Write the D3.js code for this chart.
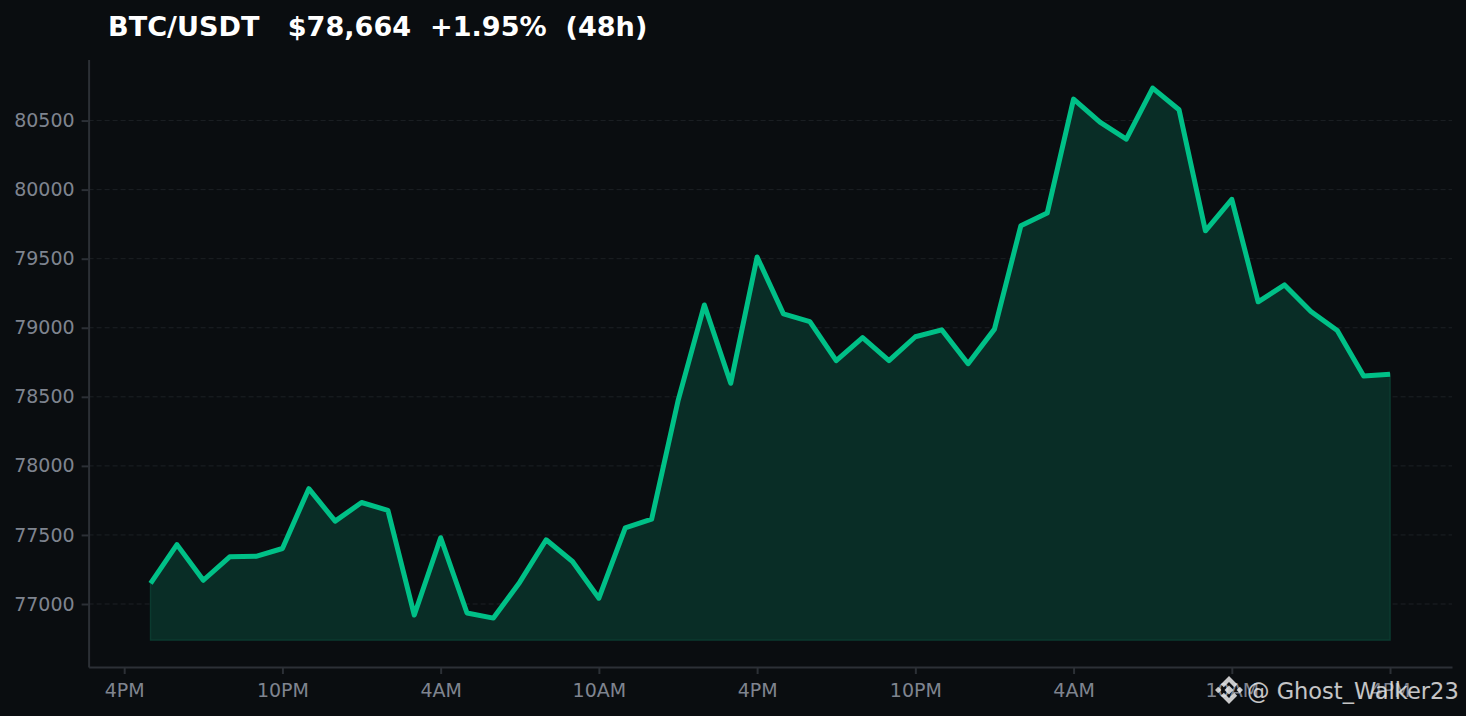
<!DOCTYPE html>
<html>
<head>
<meta charset="utf-8">
<script src="https://cdn.jsdelivr.net/npm/d3@7"></script>
<style>
  html, body { margin: 0; padding: 0; background: #0a0d10; overflow: hidden; }
  svg { display: block; font-family: "DejaVu Sans", sans-serif; }
  .axis path, .axis line { stroke: #2c3036; stroke-width: 2; }
  .axis text { fill: #7f848f; font-size: 19px; font-family: "DejaVu Sans", sans-serif; }
  .grid line { stroke: #1c2024; stroke-width: 1; stroke-dasharray: 5 3; }
</style>
</head>
<body>
<svg id="chart" width="1466" height="716"></svg>
<script>
// hours after the first 4PM tick
const hours = d3.range(1, 49);
const prices = [
  77150, 77430, 77172, 77342, 77345, 77402, 77835, 77600, 77735, 77678,
  76920, 77480, 76935, 76898, 77158, 77465, 77308, 77042, 77552, 77614,
  78470, 79165, 78598, 79512, 79100, 79045, 78762, 78928, 78762, 78935,
  78985, 78740, 78990, 79738, 79830, 80655, 80488, 80365, 80735, 80578,
  79702, 79930, 79188, 79310, 79118, 78980, 78650, 78664
];
const baseline = 76740;
const yTicks = [77000, 77500, 78000, 78500, 79000, 79500, 80000, 80500];
const xTickHours = [0, 6, 12, 18, 24, 30, 36, 42, 48];
const xTickLabels = ['4PM', '10PM', '4AM', '10AM', '4PM', '10PM', '4AM', '10AM', '4PM'];
const titleText = 'BTC/USDT   $78,664  +1.95%  (48h)';
const watermark = '@ Ghost_Walker23';

const margin = { top: 59.5, right: 14, bottom: 49, left: 88.6 };
const svg = d3.select('#chart');
const width = 1466 - margin.left - margin.right;
const height = 716 - margin.top - margin.bottom;

svg.append('rect').attr('width', 1466).attr('height', 716).attr('fill', '#0a0d10');

const g = svg.append('g')
  .attr('transform', `translate(${margin.left},${margin.top})`);

// Scales
const xScale = d3.scaleLinear().domain([-1.35, 50.35]).range([0, width]);
const yScale = d3.scaleLinear().domain([76544, 80942]).range([height, 0]);

// Grid
g.append('g').attr('class', 'grid')
  .selectAll('line').data(yTicks).join('line')
  .attr('x1', 0).attr('x2', width)
  .attr('y1', d => yScale(d)).attr('y2', d => yScale(d));

// Area and line
const area = d3.area()
  .x((d, i) => xScale(hours[i]))
  .y0(yScale(baseline))
  .y1(d => yScale(d));
const line = d3.line()
  .x((d, i) => xScale(hours[i]))
  .y(d => yScale(d));

g.append('path').datum(prices)
  .attr('d', area)
  .attr('fill', '#092d26')
  .attr('stroke', '#0b3a2f')
  .attr('stroke-width', 1.5);

g.append('path').datum(prices)
  .attr('d', line)
  .attr('fill', 'none')
  .attr('stroke', '#00c087')
  .attr('stroke-width', 5)
  .attr('stroke-linejoin', 'round')
  .attr('stroke-linecap', 'butt');

// Axes
const xAxis = d3.axisBottom(xScale)
  .tickValues(xTickHours)
  .tickFormat((d, i) => xTickLabels[i])
  .tickSize(7).tickPadding(10).tickSizeOuter(0);
const yAxis = d3.axisLeft(yScale)
  .tickValues(yTicks)
  .tickFormat(d3.format('d'))
  .tickSize(7).tickPadding(7).tickSizeOuter(0);

g.append('g').attr('class', 'axis x-axis')
  .attr('transform', `translate(0,${height})`).call(xAxis);
g.append('g').attr('class', 'axis y-axis').call(yAxis);

// Title
svg.append('text')
  .attr('x', 108).attr('y', 36)
  .attr('fill', '#ffffff')
  .attr('font-size', 27.1)
  .attr('font-weight', 'bold')
  .attr('xml:space', 'preserve')
  .style('white-space', 'pre')
  .text(titleText);

// Watermark
const wm = svg.append('g').attr('opacity', 0.85);
const logo = wm.append('g').attr('transform', 'translate(1229,690)').attr('fill', '#ececec');
logo.append('path').attr('d', 'M0,-4.5L4.5,0L0,4.5L-4.5,0Z');
logo.append('path').attr('d', 'M-14,0L-10.8,-3.2L-7.6,0L-10.8,3.2Z');
logo.append('path').attr('d', 'M14,0L10.8,-3.2L7.6,0L10.8,3.2Z');
logo.append('path').attr('d', 'M0,-14L8.2,-5.8L5.2,-2.8L0,-8L-5.2,-2.8L-8.2,-5.8Z');
logo.append('path').attr('d', 'M0,14L8.2,5.8L5.2,2.8L0,8L-5.2,2.8L-8.2,5.8Z');
wm.append('text')
  .attr('x', 1247).attr('y', 699)
  .attr('fill', '#e6e6e6')
  .attr('font-size', 22.5)
  .text(watermark);
</script>
</body>
</html>
